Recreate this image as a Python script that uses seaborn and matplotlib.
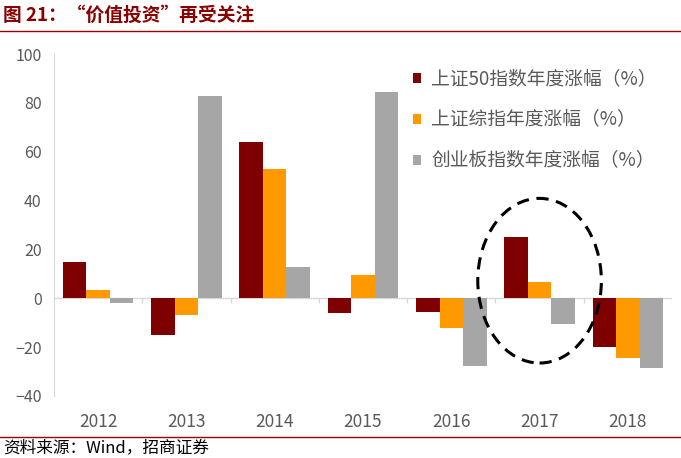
import numpy as np
import pandas as pd
import matplotlib
matplotlib.use("Agg")
import matplotlib.pyplot as plt
from matplotlib.lines import Line2D
from matplotlib.patches import Ellipse, Patch
import seaborn as sns

years = ["2012", "2013", "2014", "2015", "2016", "2017", "2018"]
series_names = ["上证50指数年度涨幅（%）", "上证综指年度涨幅（%）", "创业板指数年度涨幅（%）"]
sse50 = [14.8, -15.2, 63.9, -6.2, -5.5, 25.1, -19.8]
sse_comp = [3.2, -6.8, 52.9, 9.4, -12.3, 6.6, -24.6]
chinext = [-2.1, 82.7, 12.8, 84.4, -27.7, -10.7, -28.7]
colors = ["#7F0000", "#FF9900", "#A6A6A6"]
yticks = [-40, -20, 0, 20, 40, 60, 80, 100]

sns.set_style("white")
plt.rcParams["font.family"] = ["Noto Sans CJK SC", "DejaVu Sans"]

df = pd.DataFrame({
    "year": years * 3,
    "series": sum([[s] * len(years) for s in series_names], []),
    "value": sse50 + sse_comp + chinext,
})

fig = plt.figure(figsize=(6.81, 4.58), dpi=100)
W, H = 681, 458
ax = fig.add_axes([54 / W, 1 - 396 / H, (672 - 54) / W, (396 - 54) / H])

ax.axhline(0, color="#D9D9D9", lw=1, zorder=0)
sns.barplot(data=df, x="year", y="value", hue="series", hue_order=series_names,
            palette=colors, width=0.8, saturation=1, linewidth=0, ax=ax,
            legend=False, zorder=2)

ax.set_xlim(-0.5, len(years) - 0.5)
ax.set_ylim(-40, 100)
ax.set_yticks(yticks)
ax.set_xlabel("")
ax.set_ylabel("")
for s in ["top", "right", "bottom"]:
    ax.spines[s].set_visible(False)
ax.spines["left"].set_color("#D9D9D9")
ax.tick_params(axis="y", colors="#D9D9D9", length=5, width=1, labelcolor="#595959", labelsize=11.5, pad=4)
ax.tick_params(axis="x", length=0, labelcolor="#595959", labelsize=12.5, pad=12)
ax.vlines(np.arange(0.5, len(years), 1.0), 0, -2, colors="#D9D9D9", lw=1, zorder=1)

# dashed ellipse highlighting 2017
ell = Ellipse((years.index("2017"), 7.2), width=1.40, height=67.4, fill=False,
              ec="black", lw=2.2, ls=(0, (4, 2.5)), zorder=5)
ax.add_patch(ell)

handles = [Patch(facecolor=c, edgecolor="none") for c in colors]
leg = ax.legend(handles, series_names, loc="upper left",
                bbox_to_anchor=(413 / W, 1 - 69 / H), bbox_transform=fig.transFigure,
                frameon=False, fontsize=13.5, labelcolor="#595959",
                handlelength=0.42, handleheight=0.45, handletextpad=0.55,
                labelspacing=1.05, borderaxespad=0, borderpad=0)

fig.text(3 / W, 1 - 15 / H, "图 21：“价值投资”再受关注", fontsize=13.5, fontweight="bold",
         color="#8B0000", va="center", ha="left")
fig.add_artist(Line2D([0, 1], [1 - 31 / H] * 2, color="#A00000", lw=1, transform=fig.transFigure))
fig.add_artist(Line2D([0, 1], [1 - 437 / H] * 2, color="#A00000", lw=1, transform=fig.transFigure))
fig.text(3 / W, 1 - 448 / H, "资料来源：Wind，招商证券", fontsize=12, color="black",
         va="center", ha="left")

fig.savefig("out.png", dpi=100)
